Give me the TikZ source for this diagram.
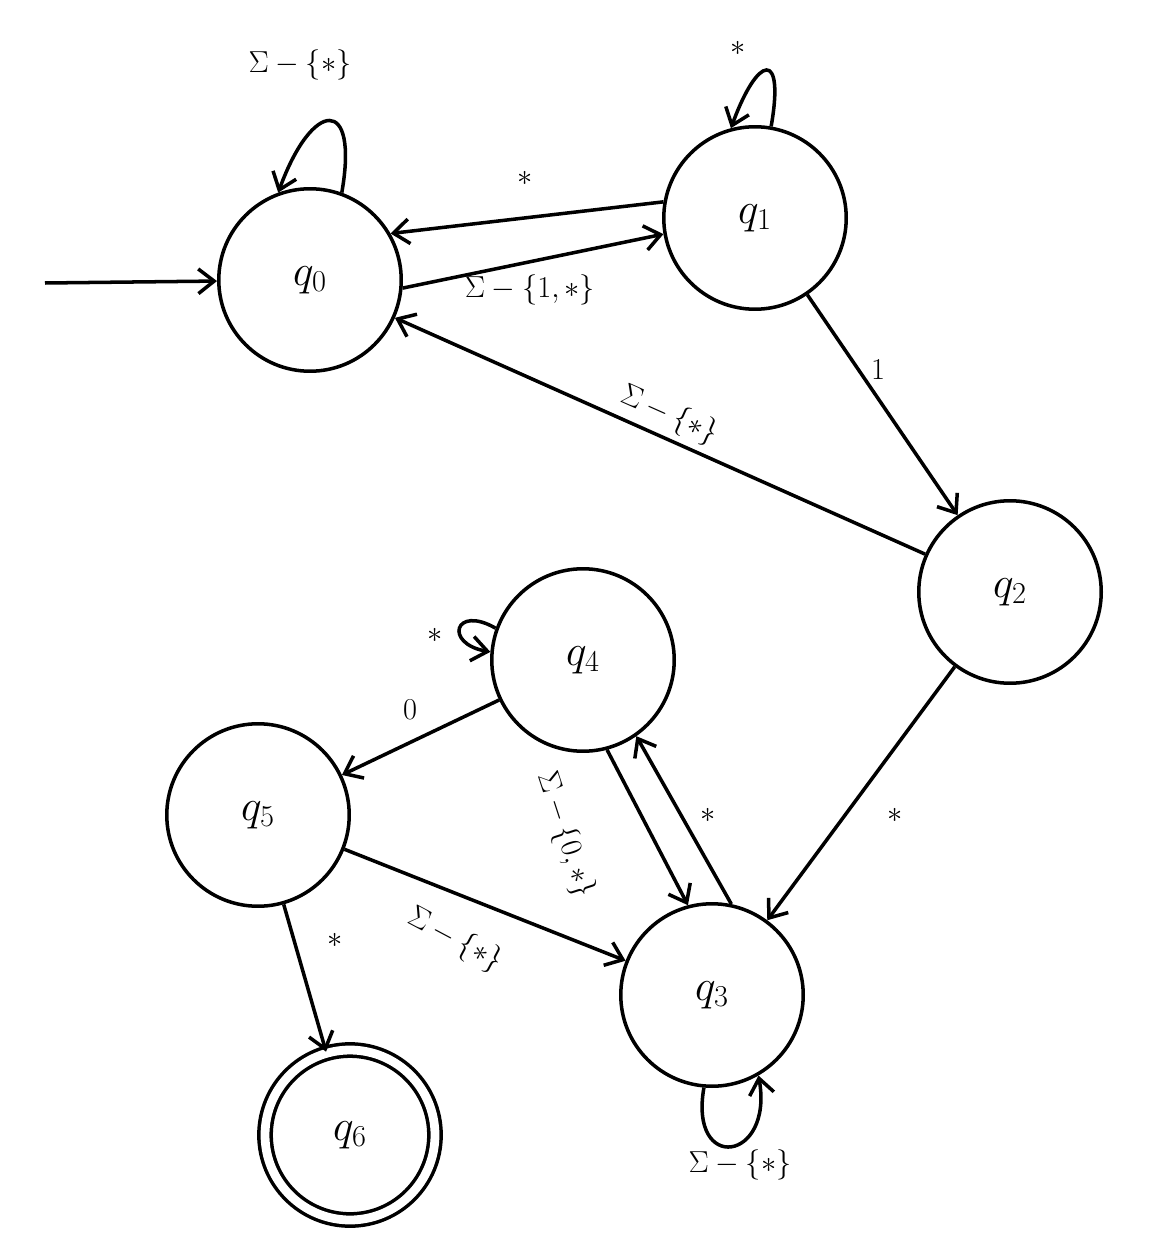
\documentclass[tikz,border=0pt]{standalone}
\usetikzlibrary{arrows.meta}
\begin{document}
\begin{tikzpicture}[x=0.02cm,y=-0.02cm,
  st/.style={circle,draw,line width=2pt,minimum size=3.65cm,font=\fontsize{26}{30}\selectfont},
  acc/.style={st,double,double distance=5pt,minimum size=3.4cm},
  tr/.style={line width=2pt,-{Straight Barb[length=9pt,width=14pt,line width=2pt]}},
  lb/.style={font=\fontsize{18}{21}\selectfont}]
\useasboundingbox (0,0) rectangle (1158,1246);
\node[st] (q0) at (310,280) {$q_0$};
\node[st] (q1) at (755,218) {$q_1$};
\node[st] (q2) at (1010,592) {$q_2$};
\node[st] (q3) at (712,995) {$q_3$};
\node[st] (q4) at (583,660) {$q_4$};
\node[st] (q5) at (258,815) {$q_5$};
\node[acc] (q6) at (350,1135) {$q_6$};
\coordinate (s) at (45,283);
\draw[tr] (s) -- (q0);
\draw[tr] (q0.70) to[out=80,in=70,looseness=4] (q0.110);
\node[lb] (l0) at (300,65) {$\Sigma-\{*\}$};
\draw[tr] (q1.170) -- (q0.30);
\node[lb] (l1) at (525,178) {$*$};
\draw[tr] (q0.-5) -- (q1.190);
\node[lb] (l2) at (530,290) {$\Sigma-\{1,*\}$};
\draw[tr] (q1.80) to[out=80,in=70,looseness=5] (q1.105);
\node[lb] (l3) at (738,48) {$*$};
\draw[tr] (q1) -- (q2);
\node[lb] (l4) at (878,370) {$1$};
\draw[tr] (q2) -- node[lb,above,sloped] {$\Sigma-\{*\}$} (q0);
\draw[tr] (q2) -- (q3);
\node[lb] (l5) at (895,815) {$*$};
\draw[tr] (q4.-75) -- (q3.105);
\node[lb,rotate=-72] (l6) at (565,835) {$\Sigma-\{0,*\}$};
\draw[tr] (q3.78) -- (q4.-55);
\node[lb] (l7) at (708,815) {$*$};
\draw[tr] (q4.160) to[out=150,in=170,looseness=5] (q4.175);
\node[lb] (l8) at (435,635) {$*$};
\draw[tr] (q4) -- (q5);
\node[lb] (l9) at (410,710) {$0$};
\draw[tr] (q5) -- (q3);
\node[lb,rotate=-28] (l10) at (455,940) {$\Sigma-\{*\}$};
\draw[tr] (q5) -- (q6);
\node[lb] (l11) at (335,940) {$*$};
\draw[tr] (q3.-95) to[out=-100,in=-80,looseness=4] (q3.-60);
\node[lb] (l12) at (740,1165) {$\Sigma-\{*\}$};
\end{tikzpicture}
\end{document}
